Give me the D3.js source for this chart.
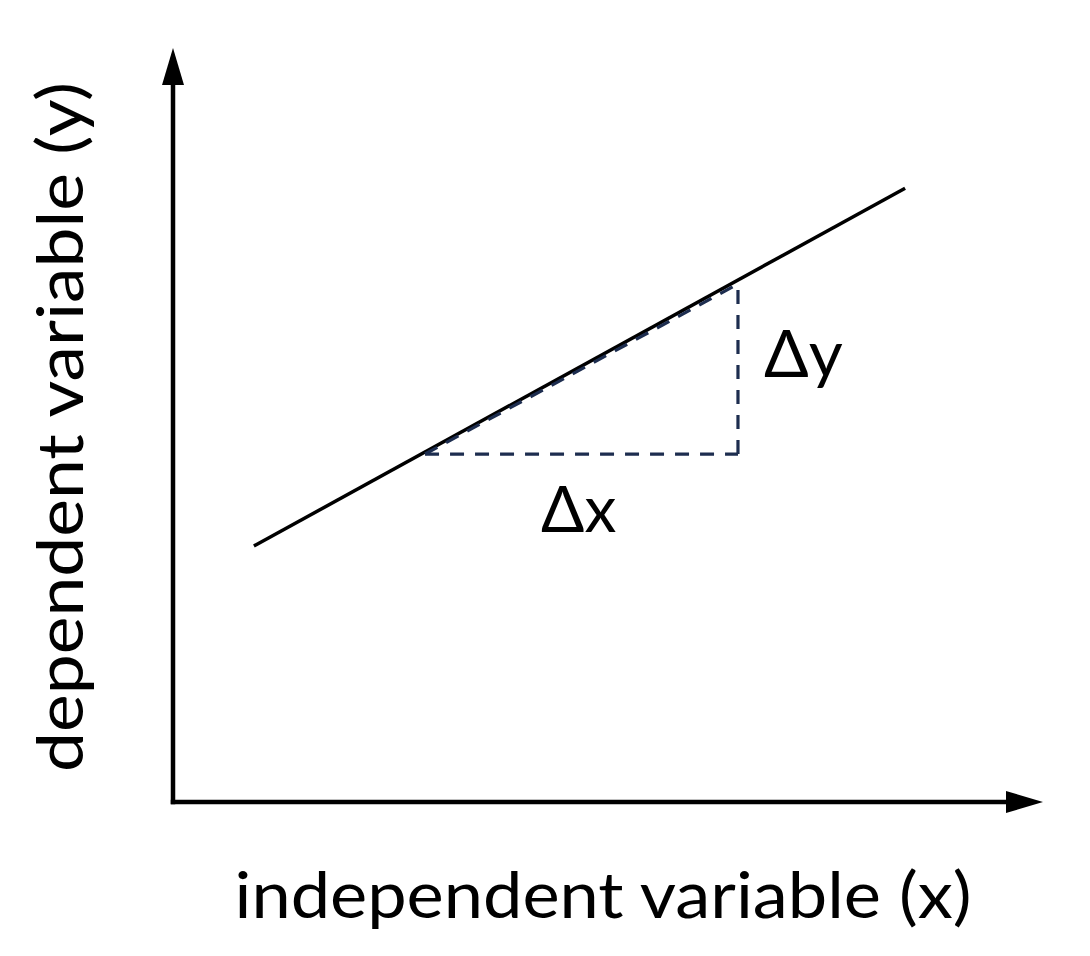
<!DOCTYPE html>
<html>
<head>
<meta charset="utf-8">
<script src="https://cdn.jsdelivr.net/npm/d3@7"></script>
<style>
  html, body { margin: 0; padding: 0; background: #fff; }
  svg text { font-family: "Lato", "Noto Sans", sans-serif; fill: #000; }
</style>
</head>
<body>
<svg id="chart" width="1090" height="956"></svg>
<script>
// ---- data ----
const xDomain = [0, 100];
const yDomain = [0, 100];
const linePoints = [ {x: 9.3, y: 33.95}, {x: 84.15, y: 81.4} ];
const triStart = {x: 28.97, y: 46.15};
const triEnd   = {x: 64.94, y: 68.7};
const xAxisLabel = "independent variable (x)";
const yAxisLabel = "dependent variable (y)";
const deltaXLabel = "Δx";
const deltaYLabel = "Δy";

// ---- layout ----
const svg = d3.select("#chart");
const x = d3.scaleLinear().domain(xDomain).range([173, 1043]);
const y = d3.scaleLinear().domain(yDomain).range([802, 48]);

// axes
const axisW = 4.5;
svg.append("line")
  .attr("x1", x(0) - axisW/2).attr("y1", y(0))
  .attr("x2", x(100) - 36).attr("y2", y(0))
  .attr("stroke", "#000").attr("stroke-width", axisW);
svg.append("line")
  .attr("x1", x(0)).attr("y1", y(0) + axisW/2)
  .attr("x2", x(0)).attr("y2", y(100) + 36)
  .attr("stroke", "#000").attr("stroke-width", axisW);
// arrow heads
svg.append("path")
  .attr("d", `M${x(100)},${y(0)} L${x(100)-37},${y(0)-11} L${x(100)-37},${y(0)+11} Z`)
  .attr("fill", "#000");
svg.append("path")
  .attr("d", `M${x(0)},${y(100)} L${x(0)-11},${y(100)+37} L${x(0)+11},${y(100)+37} Z`)
  .attr("fill", "#000");

// main line
const lineGen = d3.line().x(d => x(d.x)).y(d => y(d.y));
svg.append("path")
  .datum(linePoints)
  .attr("d", lineGen)
  .attr("fill", "none")
  .attr("stroke", "#000")
  .attr("stroke-width", 3.5);

// dashed triangle
const navy = "#1d2d4f";
svg.append("path")
  .datum([triStart, triEnd])
  .attr("d", lineGen)
  .attr("fill", "none").attr("stroke", navy).attr("stroke-width", 3.2)
  .attr("stroke-dasharray", "14,10");
svg.append("path")
  .datum([triStart, {x: triEnd.x, y: triStart.y}])
  .attr("d", lineGen)
  .attr("fill", "none").attr("stroke", navy).attr("stroke-width", 3.2)
  .attr("stroke-dasharray", "14,11");
svg.append("path")
  .datum([{x: triEnd.x, y: triStart.y}, triEnd])
  .attr("d", lineGen)
  .attr("fill", "none").attr("stroke", navy).attr("stroke-width", 3.2)
  .attr("stroke-dasharray", "14,11");

// labels
const fs = 64;
svg.append("text")
  .attr("x", 603).attr("y", 918)
  .attr("text-anchor", "middle")
  .attr("font-size", fs)
  .attr("textLength", 737).attr("lengthAdjust", "spacingAndGlyphs")
  .text(xAxisLabel);
svg.append("text")
  .attr("transform", "translate(83,427) rotate(-90)")
  .attr("text-anchor", "middle")
  .attr("font-size", fs)
  .attr("textLength", 690).attr("lengthAdjust", "spacingAndGlyphs")
  .text(yAxisLabel);
svg.append("text")
  .attr("x", 541).attr("y", 532)
  .attr("font-size", fs)
  .text(deltaXLabel);
svg.append("text")
  .attr("x", 764).attr("y", 377)
  .attr("font-size", 66)
  .text(deltaYLabel);
</script>
</body>
</html>
